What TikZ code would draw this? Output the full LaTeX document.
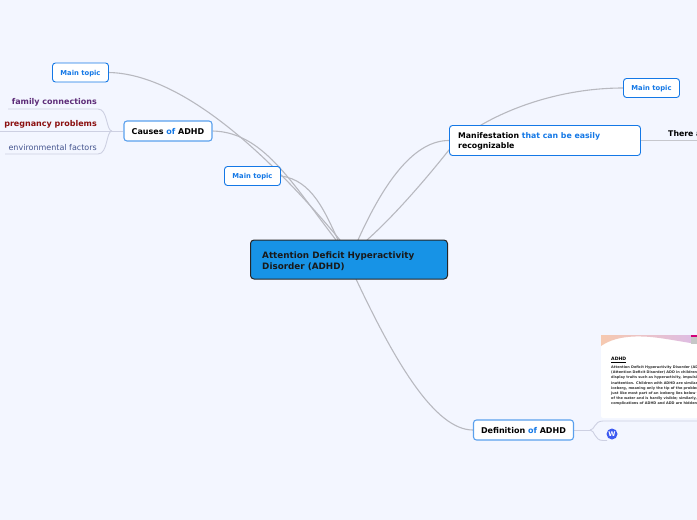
\documentclass[tikz,border=0pt]{standalone}
\usepackage{fontspec}
\setmainfont{DejaVu Sans}
\usetikzlibrary{backgrounds}
\definecolor{bgc}{HTML}{F3F6FF}
\definecolor{bluec}{HTML}{1478E6}
\definecolor{centerc}{HTML}{1793E6}
\definecolor{linkc}{HTML}{B8B9C0}
\definecolor{sublink}{HTML}{CDD0E2}
\definecolor{famc}{HTML}{5E2D79}
\definecolor{pregc}{HTML}{8B1010}
\definecolor{envc}{HTML}{45558F}
\definecolor{badgec}{HTML}{3D5AF1}
\definecolor{bandl}{HTML}{F6C9B0}
\definecolor{bandr}{HTML}{DDBCE6}
\tikzset{
  topicbox/.style={draw=bluec,line width=0.9pt,fill=white,rounded corners=3pt,inner sep=0pt,minimum width=56pt,minimum height=19pt,text depth=0pt,font=\bfseries\fontsize{6.8}{8}\selectfont,text=bluec},
  mainbox/.style={draw=bluec!70,line width=1.1pt,fill=white,rounded corners=3pt,inner sep=0pt,text depth=0pt,font=\bfseries\fontsize{8}{10}\selectfont,text=black},
  link/.style={draw=linkc,line width=1.1pt},
  sublinkp/.style={draw=sublink,line width=0.9pt},
  subtext/.style={anchor=east,inner sep=0pt,font=\fontsize{8}{10}\selectfont},
}
\begin{document}
\begin{tikzpicture}[x=1pt,y=-1pt]
\useasboundingbox (0,0) rectangle (697,520);
\clip (0,0) rectangle (697,520);
\begin{scope}[on background layer]
\fill[bgc] (0,0) rectangle (697,520);
\end{scope}
% nodes
\node[draw=black!85,line width=1pt,fill=centerc,rounded corners=3.5pt,minimum width=197pt,minimum height=39pt,inner sep=0pt] (c) at (349,259.5) {};
\node[anchor=west,inner sep=0pt,align=left,font=\bfseries\fontsize{8.8}{11.2}\selectfont,text=black!90] (ct) at (262,261) {Attention Deficit Hyperactivity\\Disorder (ADHD)};
\coordinate (c1) at (340,240);
\coordinate (c2) at (336,240);
\coordinate (c3) at (338,240);
\coordinate (c4) at (358,240);
\coordinate (c5) at (367,240);
\coordinate (c6) at (356,279);
\node[topicbox] (t1) at (80.5,72.5) {Main topic};
\node[topicbox] (t2) at (252.5,176) {Main topic};
\node[topicbox] (t3) at (651.5,88) {Main topic};
\node[mainbox,minimum width=88pt,minimum height=20pt] (causes) at (168,131) {Causes \textcolor{bluec}{of} ADHD};
\node[mainbox,minimum width=100pt,minimum height=20pt] (defn) at (523.5,430) {Definition \textcolor{bluec}{of} ADHD};
\node[draw=bluec,line width=0.9pt,fill=white,rounded corners=3pt,minimum width=191pt,minimum height=30pt,inner sep=0pt] (man) at (545,140.5) {};
\node[anchor=west,inner sep=0pt,align=left,font=\bfseries\fontsize{7.8}{10}\selectfont,text=black] (mant) at (458,141.5) {Manifestation \textcolor{bluec}{that can be easily}\\recognizable};
\node[anchor=west,inner sep=0pt,font=\bfseries\fontsize{7.8}{10}\selectfont,text=black] (there) at (668,134) {There a};
% left subtopics
\node[subtext,text=famc,font=\bfseries\fontsize{8}{10}\selectfont] (s1) at (97,102.5) {family connections};
\node[subtext,text=pregc,font=\bfseries\fontsize{8}{10}\selectfont] (s2) at (97,124.5) {pregnancy problems};
\node[subtext,text=envc] (s3) at (97,147.5) {environmental factors};
\coordinate (s1a) at (8,109);
\coordinate (s2a) at (0,131);
\coordinate (s3a) at (5,154);
\coordinate (fork) at (112,131);
% definition children
\coordinate (dfork) at (590,430);
\coordinate (dtop) at (697,421);
\coordinate (dbot) at (607,440.5);
\coordinate (mL) at (449.5,140.5);
\coordinate (mR) at (640.5,140.5);
\coordinate (edgeR) at (697,140.5);
\begin{scope}[on background layer]
\draw[link] (t1.east) .. controls (180,74) and (265,150) .. (c1);
\draw[link] (causes.east) .. controls (262,132) and (290,180) .. (c2);
\draw[link] (t2.east) .. controls (312,180) and (325,212) .. (c3);
\draw[link] (mL) .. controls (415,140) and (385,180) .. (c4);
\draw[link] (t3.west) .. controls (540,88) and (470,125) .. (449,150) .. controls (425,180) and (395,215) .. (c5);
\draw[link] (defn.west) .. controls (435,430) and (395,362) .. (c6);
\draw[draw=linkc!80,line width=1pt] (mR) -- (edgeR);
\draw[sublinkp] (causes.west) -- (fork);
\draw[sublinkp] (fork) .. controls (106,131) and (108,109) .. (98,109) -- (s1a);
\draw[sublinkp] (fork) -- (s2a);
\draw[sublinkp] (fork) .. controls (106,131) and (108,154) .. (98,154) -- (s3a);
\draw[sublinkp] (defn.east) -- (dfork);
\draw[sublinkp] (dfork) .. controls (595,430) and (594,421) .. (603,421) -- (dtop);
\draw[sublinkp] (dfork) .. controls (595,430) and (594,440.5) .. (603,440.5) -- (dbot);
\end{scope}
% picture card
\fill[white,rounded corners=2pt] (601,335) rectangle (710,418);
\shade[left color=bandl,right color=bandr] (601,335) -- (697,335) -- (697,344) .. controls (670,340) and (655,336) .. (635,336.5) .. controls (620,337) and (610,340) .. (601,346) -- cycle;
\fill[gray!45] (691,336) rectangle (697,344);
\fill[purple!70!magenta] (691,335) rectangle (697,336.5);
\node[anchor=west,inner sep=0pt,font=\bfseries\fontsize{4.6}{5}\selectfont] (h) at (611,360) {\underline{ADHD}};
\node[anchor=north west,inner sep=0pt,align=left,font=\bfseries\fontsize{3.5}{5.05}\selectfont,text=black!80] (body) at (611,366) {Attention Deficit Hyperactivity Disorder (ADHD)\\(Attention Deficit Disorder) ADD in children can\\display traits such as hyperactivity, impulsivity and\\inattention. Children with ADHD are similar to an\\iceberg, meaning only the tip of the problem is visible,\\just like most part of an iceberg lies below the surface\\of the water and is hardly visible; similarly, all\\complications of ADHD and ADD are hidden.};
% badge
\node[circle,fill=badgec,minimum size=11pt,inner sep=0pt,text=white,font=\bfseries\fontsize{6.5}{7}\selectfont] (w) at (612,434) {W};
\end{tikzpicture}
\end{document}
